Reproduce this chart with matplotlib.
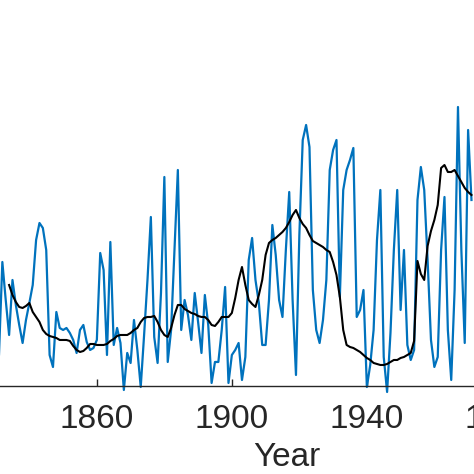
import matplotlib
matplotlib.use("Agg")
import matplotlib.pyplot as plt

# annual series (arbitrary units)
years = list(range(1830, 1972))
annual = [
    86, 31, 124, 86, 51, 106, 81, 61, 43, 66,        # 1830s
    83, 101, 146, 163, 158, 136, 31, 19, 74, 58,     # 1840s
    56, 58, 53, 46, 33, 56, 61, 44, 36, 38,          # 1850s
    46, 133, 116, 31, 144, 41, 58, 43, -4, 33,       # 1860s
    23, 66, 36, -1, 51, 106, 169, 49, 23, 93,        # 1870s
    209, 24, 56, 136, 216, 56, 86, 71, 46, 93,       # 1880s
    64, 33, 91, 61, 3, 24, 24, 56, 99, 3,            # 1890s
    31, 36, 43, 6, 29, 126, 148, 106, 83, 41,        # 1900s
    41, 86, 161, 131, 86, 69, 136, 194, 86, 11,      # 1910s
    151, 246, 261, 239, 96, 56, 43, 66, 106, 216,    # 1920s
    236, 246, 89, 196, 216, 226, 238, 69, 76, 96,    # 1930s
    -1, 21, 56, 146, 196, 29, -6, 53, 136, 196,      # 1940s
    76, 136, 41, 26, 36, 186, 219, 196, 126, 46,     # 1950s
    19, 29, 136, 189, 56, 6, 96, 279, 136, 43,       # 1960s
    256, 186,                                        # 1970s
]

# running mean as drawn in the picture
smooth_years = list(range(1834, 1972))
smooth = [
    101, 91, 84, 79, 78, 80,
    83, 74, 69, 64, 56, 52, 50, 49, 48, 46,
    46, 46, 45, 40, 36, 34, 35, 38, 42, 42,
    41, 41, 41, 42, 45, 47, 50, 51, 51, 51,
    53, 56, 58, 64, 68, 69, 69, 70, 64, 56,
    51, 49, 58, 71, 81, 81, 77, 75, 73, 72,
    70, 69, 69, 66, 61, 60, 64, 69, 69, 69,
    73, 88, 106, 119, 101, 86, 82, 79, 91, 106,
    131, 143, 146, 148, 151, 154, 158, 164, 171, 176,
    168, 162, 158, 151, 145, 143, 141, 139, 136, 134,
    124, 111, 89, 56, 41, 39, 38, 36, 34, 31,
    28, 26, 23, 22, 21, 21, 22, 24, 26, 26,
    28, 29, 31, 33, 45, 125, 112, 106, 140, 155,
    166, 181, 218, 221, 214, 214, 216, 210, 204, 198,
    194, 191,
]

xticks = [1860, 1900, 1940, 1980]

fig = plt.figure(figsize=(4.74, 4.74), dpi=100)
ax = fig.add_axes([-0.0164, 0.1857, 1.2432, 0.8143])

ax.plot(years, annual, color="#0072BD", lw=1.6, clip_on=False, zorder=2)
ax.plot(smooth_years, smooth, color="black", lw=1.5, clip_on=False, zorder=3)

ax.set_xlim(1829, 2003.6)
ax.set_ylim(0, 386)

for side in ["top", "right", "left"]:
    ax.spines[side].set_visible(False)
ax.spines["bottom"].set_color("#262626")
ax.spines["bottom"].set_linewidth(1.0)
ax.set_yticks([])
ax.set_xticks(xticks)
ax.set_xticklabels([str(t) for t in xticks])
ax.tick_params(axis="x", direction="in", length=5, width=1.0, color="#262626",
               labelcolor="#262626", labelsize=24, pad=13)
for lab in ax.get_xticklabels():
    lab.set_fontfamily("Liberation Sans")
ax.set_xlabel("Year", fontsize=24, color="#262626", family="Liberation Sans", labelpad=5)

fig.savefig("out.png", dpi=100)
